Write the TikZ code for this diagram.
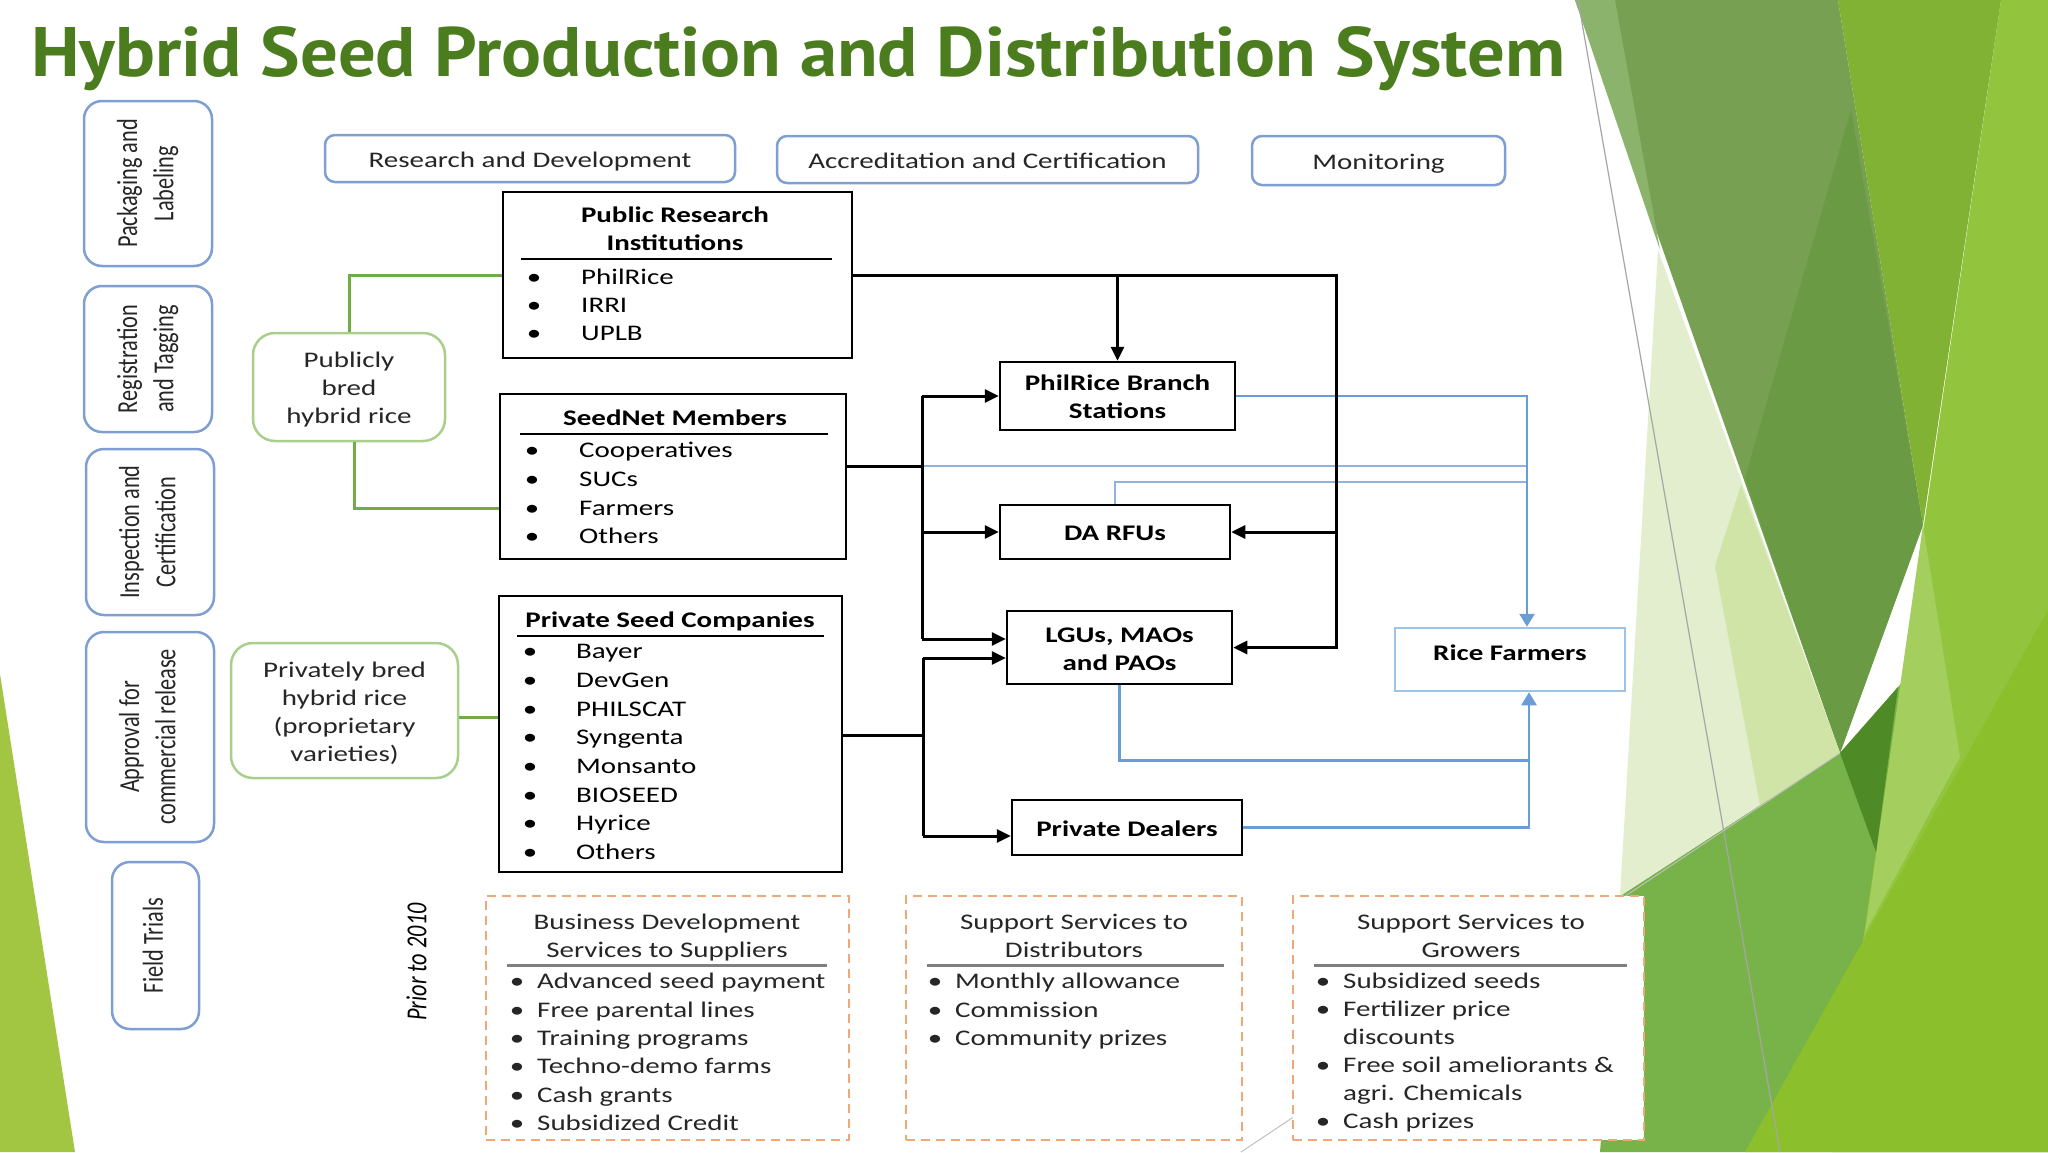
\documentclass[tikz,border=0pt]{standalone}
\usepackage{fontspec}
\setmainfont{Carlito}
\newfontfamily\titlefont{PT Sans}
\usepackage{graphicx}
\usetikzlibrary{arrows.meta,calc}
\definecolor{titlegreen}{HTML}{4B7D1F}
\definecolor{boxblue}{HTML}{7F9FD3}
\definecolor{boxgreen}{HTML}{A9CF8C}
\definecolor{linegreen}{HTML}{70AD47}
\definecolor{flowblue}{HTML}{6A9DD6}
\definecolor{flowbluelt}{HTML}{8DB3DE}
\definecolor{rfblue}{HTML}{9DC3E6}
\definecolor{dashorange}{HTML}{F0A878}
\definecolor{ulgray}{HTML}{7F7F7F}
\definecolor{txtdark}{HTML}{262626}
\definecolor{cA}{HTML}{77A052}
\definecolor{cAlow}{HTML}{6A9A44}
\definecolor{cAsl}{HTML}{8BB36B}
\definecolor{cAtwo}{HTML}{4E8A25}
\definecolor{cB}{HTML}{82B233}
\definecolor{cC}{HTML}{93C43E}
\definecolor{cD}{HTML}{A4CF5F}
\definecolor{cE}{HTML}{E2EECD}
\definecolor{cEtwo}{HTML}{D0E4A8}
\definecolor{cF}{HTML}{78B349}
\definecolor{cG}{HTML}{8CBF2C}
\definecolor{cL}{HTML}{A2C642}
\newcommand\fz{\fontsize{22.3}{28}\selectfont}
\newcommand\hx[1]{\raisebox{-3pt}[\height][\depth]{\scalebox{1.3}[1]{\begin{tabular}{@{}c@{}}#1\end{tabular}}}}
\newcommand\vx[1]{\scalebox{1}[1.3]{\begin{tabular}{@{}c@{}}#1\end{tabular}}}
\begin{document}
\begin{tikzpicture}[x=1pt,y=-1pt,font=\fz,
  blubox/.style={draw=boxblue,line width=2.5pt,rounded corners=10pt,fill=white,text=txtdark,inner sep=0pt},
  sidebox/.style={draw=boxblue,line width=2.5pt,rounded corners=18pt,fill=white,text=txtdark,inner sep=0pt,rotate=90},
  grnbox/.style={draw=boxgreen,line width=2.5pt,rounded corners=22pt,fill=white,text=txtdark,inner sep=0pt},
  blkbox/.style={draw=black,line width=2.5pt,fill=white,inner sep=0pt},
  distbox/.style={blkbox,font=\fz\bfseries},
  rfbox/.style={draw=rfblue,line width=2.5pt,fill=white,inner sep=0pt},
  dashbox/.style={draw=dashorange,line width=2.5pt,dash pattern=on 9pt off 6pt,fill=white,inner sep=0pt},
  txt/.style={inner sep=0pt},
  dtxt/.style={inner sep=0pt,text=txtdark},
  grn/.style={draw=linegreen,line width=3pt},
  blkl/.style={draw=black,line width=3pt},
  blk/.style={blkl,-{Triangle[length=14pt,width=13pt]}},
  blu/.style={draw=flowblue,line width=2.6pt},
  blult/.style={draw=flowbluelt,line width=2.2pt},
  bluarr/.style={blu,-{Triangle[length=13pt,width=15pt]}}]
\path[use as bounding box,fill=white] (0,0) rectangle (2048,1152);
% background facets
\fill[cL] (0,674) -- (75,1152) -- (0,1152) -- cycle;
\fill[cF] (1620,896) -- (1840,753) -- (1898,687) -- (2048,514) -- (2048,1152) -- (1600,1152) -- cycle;
\fill[cC] (2001,0) -- (2048,0) -- (2048,1152) -- (1832,1152) -- cycle;
\fill[cG] (1745,1152) -- (2048,610) -- (2048,1152) -- cycle;
\fill[cA] (1575,0) -- (1838,0) -- (1923,525) -- (1840,753) -- cycle;
\fill[cAlow] (1851,110) -- (1923,525) -- (1840,753) -- (1745,478) -- cycle;
\fill[cAsl] (1575,0) -- (1615,0) -- (1660,250) -- cycle;
\fill[cB] (1838,0) -- (2001,0) -- (1923,525) -- cycle;
\fill[cD] (1923,525) -- (1960,757) -- (1865,933) -- cycle;
\fill[cAtwo] (1840,753) -- (1898,687) -- (1876,852) -- cycle;
\fill[cE] (1658,250) -- (1840,753) -- (1620,896) -- cycle;
\fill[cEtwo] (1741,485) -- (1840,753) -- (1760,805) -- (1715,566) -- cycle;
\draw[gray!70,line width=1.2pt] (1578,0) -- (1780,1152);
\draw[gray!50,line width=1pt] (1241,1152) -- (1840,753);
% title
\node[anchor=base west,inner sep=0pt,text=titlegreen] (title) at (31,76)
  {\resizebox{1534pt}{50pt}{\titlefont\bfseries Hybrid Seed Production and Distribution System}};
% top boxes
\node[blubox,minimum width=410pt,minimum height=47pt] (rd) at (530,158.5) {\hx{Research and Development}};
\node[blubox,minimum width=421pt,minimum height=47pt] (ac) at (987.5,159.5) {\hx{Accreditation and Certification}};
\node[blubox,minimum width=253pt,minimum height=49pt] (mo) at (1378.5,160.5) {\hx{Monitoring}};
% side boxes
\node[sidebox,minimum width=165pt,minimum height=128pt] (pl) at (148,183.5) {\vx{Packaging and\\Labeling}};
\node[sidebox,minimum width=146pt,minimum height=128pt] (rt) at (148,359) {\vx{Registration\\and Tagging}};
\node[sidebox,minimum width=166pt,minimum height=128pt] (ic) at (150,532) {\vx{Inspection and\\Certification}};
\node[sidebox,minimum width=210pt,minimum height=128pt] (acr) at (150,737) {\vx{Approval for\\commercial release}};
\node[sidebox,minimum width=167pt,minimum height=87pt] (ft) at (155.5,945.5) {\vx{Field Trials}};
\node[txt,rotate=90,font=\fz\itshape] (prior) at (419,962) {\vx{Prior to 2010}};
% source boxes
\node[blkbox,minimum width=349pt,minimum height=166pt] (pri) at (677.5,275) {};
\node[txt,font=\fz\bfseries] (pri-t) at (675,228) {\hx{Public Research\\Institutions}};
\draw[line width=2pt] (521,259) -- (832,259);
\foreach \t [count=\i] in {PhilRice,IRRI,UPLB}{
  \node[txt] (pri-b\i) at (534,{276+28*(\i-1)}) {\hx{\textbullet}};
  \node[txt,anchor=west] (pri-i\i) at (581,{276+28*(\i-1)}) {\hx{\t}};
}
\node[blkbox,minimum width=346pt,minimum height=165pt] (sn) at (673,476.5) {};
\node[txt,font=\fz\bfseries] (sn-t) at (675,417) {\hx{SeedNet Members}};
\draw[line width=2pt] (520,434) -- (828,434);
\foreach \t [count=\i] in {Cooperatives,SUCs,Farmers,Others}{
  \node[txt] (sn-b\i) at (532,{449+28.7*(\i-1)}) {\hx{\textbullet}};
  \node[txt,anchor=west] (sn-i\i) at (579,{449+28.7*(\i-1)}) {\hx{\t}};
}
\node[blkbox,minimum width=343pt,minimum height=276pt] (ps) at (670.5,734) {};
\node[txt,font=\fz\bfseries] (ps-t) at (670,619) {\hx{Private Seed Companies}};
\draw[line width=2pt] (517,636) -- (824,636);
\foreach \t [count=\i] in {Bayer,DevGen,PHILSCAT,Syngenta,Monsanto,BIOSEED,Hyrice,Others}{
  \node[txt] (ps-b\i) at (530,{650+28.7*(\i-1)}) {\hx{\textbullet}};
  \node[txt,anchor=west] (ps-i\i) at (576,{650+28.7*(\i-1)}) {\hx{\t}};
}
% breeding boxes
\node[grnbox,minimum width=192pt,minimum height=108pt] (pub) at (349,387) {\hx{Publicly\\bred\\hybrid rice}};
\node[grnbox,minimum width=227pt,minimum height=135pt] (prv) at (344.5,710.5) {\hx{Privately bred\\hybrid rice\\(proprietary\\varieties)}};
% distribution boxes
\node[distbox,minimum width=235pt,minimum height=68pt] (pbs) at (1117.5,396) {\hx{PhilRice Branch\\Stations}};
\node[distbox,minimum width=230pt,minimum height=54pt] (da) at (1115,532) {\hx{DA RFUs}};
\node[distbox,minimum width=225pt,minimum height=73pt] (lgu) at (1119.5,647.5) {\hx{LGUs, MAOs\\and PAOs}};
\node[distbox,minimum width=230pt,minimum height=55pt] (pd) at (1127,827.5) {\hx{Private Dealers}};
\node[rfbox,minimum width=230pt,minimum height=63pt] (rf) at (1510,659.5) {};
\node[txt,font=\fz\bfseries] (rf-t) at (1510,652) {\hx{Rice Farmers}};
% green connectors
\draw[grn] (pub.north) |- (pri.west);
\draw[grn] ($(pub.south)+(5,0)$) |- ($(sn.west)+(0,31.5)$);
\draw[grn] ($(prv.east)+(0,6.5)$) -- ($(ps.west)+(0,-17)$);
% blue connectors
\coordinate (sJ) at (922,466);
\coordinate (pJ) at (923,735);
\coordinate (busR) at (1336,0);
\coordinate (rfT) at ($(rf.north)+(17,0)$);
\coordinate (rfB) at ($(rf.south)+(19,0)$);
\draw[blult] (sJ) -- (sJ -| rfT);
\draw[blult] (da.north) |- ($(rfT)+(0,-145)$);
\draw[bluarr] (pbs.east) -| (rfT);
\draw[blu] (lgu.south) |- ($(rfB)+(0,68)$);
\draw[bluarr] (pd.east) -| (rfB);
% black connectors
\draw[blk] (pri.east) -| (busR |- lgu.east) -- (lgu.east);
\draw[blk] (pbs.north |- pri.east) -- (pbs.north);
\draw[blk] (busR |- da.east) -- (da.east);
\draw[blkl] (sn.east |- sJ) -- (sJ);
\draw[blkl] (sJ |- pbs.west) -- ($(sJ |- lgu.west)+(0,-8.5)$);
\draw[blk] (sJ |- pbs.west) -- (pbs.west);
\draw[blk] (sJ |- da.west) -- (da.west);
\draw[blk] ($(sJ |- lgu.west)+(0,-8.5)$) -- ($(lgu.west)+(0,-8.5)$);
\draw[blkl] (ps.east |- pJ) -- (pJ);
\draw[blkl] ($(pJ |- lgu.west)+(0,10.5)$) -- ($(pJ |- pd.west)+(0,8.5)$);
\draw[blk] ($(pJ |- lgu.west)+(0,10.5)$) -- ($(lgu.west)+(0,10.5)$);
\draw[blk] ($(pJ |- pd.west)+(0,8.5)$) -- ($(pd.west)+(0,8.5)$);
% support service boxes
\node[dashbox,minimum width=363pt,minimum height=244pt] (bds) at (667.5,1018) {};
\node[dtxt] (bds-t) at (667,934.5) {\hx{Business Development\\Services to Suppliers}};
\draw[ulgray,line width=3pt] (507,965) -- (827,965);
\foreach \t [count=\i] in {Advanced seed payment,Free parental lines,Training programs,Techno-demo farms,Cash grants,Subsidized Credit}{
  \node[dtxt] (bds-b\i) at (517,{980+28.4*(\i-1)}) {\hx{\textbullet}};
  \node[dtxt,anchor=west] (bds-i\i) at (537,{980+28.4*(\i-1)}) {\hx{\t}};
}
\node[dashbox,minimum width=336pt,minimum height=244pt] (ssd) at (1074,1018) {};
\node[dtxt] (ssd-t) at (1074,934.5) {\hx{Support Services to\\Distributors}};
\draw[ulgray,line width=3pt] (927,965) -- (1224,965);
\foreach \t [count=\i] in {Monthly allowance,Commission,Community prizes}{
  \node[dtxt] (ssd-b\i) at (935,{980+28.4*(\i-1)}) {\hx{\textbullet}};
  \node[dtxt,anchor=west] (ssd-i\i) at (955,{980+28.4*(\i-1)}) {\hx{\t}};
}
\node[dashbox,minimum width=351pt,minimum height=244pt] (ssg) at (1468.5,1018) {};
\node[dtxt] (ssg-t) at (1471,934.5) {\hx{Support Services to\\Growers}};
\draw[ulgray,line width=3pt] (1314,965) -- (1627,965);
\node[dtxt] (ssg-b1) at (1323,980) {\hx{\textbullet}};
\node[dtxt,anchor=west] (ssg-i1) at (1343,980) {\hx{Subsidized seeds}};
\node[dtxt] (ssg-b2) at (1323,1008) {\hx{\textbullet}};
\node[dtxt,anchor=west] (ssg-i2) at (1343,1008) {\hx{Fertilizer price}};
\node[dtxt,anchor=west] (ssg-i3) at (1343,1036) {\hx{discounts}};
\node[dtxt] (ssg-b4) at (1323,1064) {\hx{\textbullet}};
\node[dtxt,anchor=west] (ssg-i4) at (1343,1064) {\hx{Free soil ameliorants \&}};
\node[dtxt,anchor=west] (ssg-i5) at (1343,1092) {\hx{agri. Chemicals}};
\node[dtxt] (ssg-b6) at (1323,1120) {\hx{\textbullet}};
\node[dtxt,anchor=west] (ssg-i6) at (1343,1120) {\hx{Cash prizes}};
\end{tikzpicture}
\end{document}
